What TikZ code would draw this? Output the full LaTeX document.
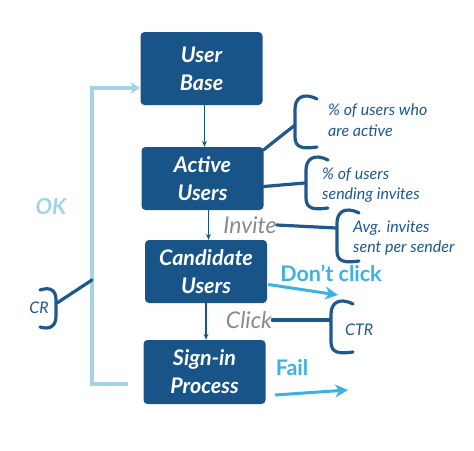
\documentclass[tikz,border=0pt]{standalone}
\usepackage{fontspec}
\setmainfont{Lato}
\usetikzlibrary{arrows.meta,calc}
\definecolor{boxblue}{RGB}{25,84,137}
\definecolor{bracecol}{RGB}{30,88,140}
\definecolor{loopblue}{RGB}{166,211,227}
\definecolor{brightblue}{RGB}{58,178,226}
\definecolor{grayt}{RGB}{138,138,138}
\begin{document}
\begin{tikzpicture}[x=1pt,y=-1pt,
  stagebox/.style={rectangle,rounded corners=4pt,fill=boxblue,text=white,
    minimum width=122pt,minimum height=64pt,align=center,inner sep=0pt,
    font=\fontsize{21.5}{28}\selectfont\bfseries\itshape},
  flow/.style={draw=boxblue,line width=1.2pt,-{Stealth[length=6pt,width=5pt]}},
  bline/.style={draw=bracecol,line width=3.2pt,line cap=round},
  note/.style={text=bracecol,align=left,anchor=west,inner sep=0pt,
    font=\fontsize{16}{20.5}\selectfont\itshape},
  lab/.style={text=grayt,inner sep=0pt,font=\fontsize{23}{24}\selectfont\itshape},
  blab/.style={text=brightblue,inner sep=0pt,font=\fontsize{21.5}{24}\selectfont\bfseries},
  barrow/.style={draw=brightblue,line width=3pt,-{Stealth[length=13pt,width=13pt]}},
  lbr/.pic={\draw[bline] (22,-24) .. controls (8,-31) and (0,-25) .. (0,-14) -- (0,14) .. controls (0,25) and (8,26) .. (22,24);}
]
\useasboundingbox (0,0) rectangle (474,450);

% stages
\node[stagebox,minimum height=73pt] (UB) at (201.5,68.5) {User\\Base};
\node[stagebox,minimum height=63pt] (AU) at (202.5,178.5) {Active\\Users};
\node[stagebox,minimum height=63pt] (CU) at (206,271.5) {Candidate\\Users};
\node[stagebox,minimum height=64pt] (SP) at (204.5,372) {Sign-in\\Process};

\draw[flow] ($(UB.south)+(3,0)$) -- ($(UB.south |- AU.north)+(3,0)$);
\draw[flow] ($(AU.south)+(6,0)$) -- ($(AU.south |- CU.north)+(6,0)$);
\draw[flow] ($(CU.south)+(0,0)$) -- ($(CU.south |- SP.north)+(0,0)$);

% OK loop
\coordinate (loopstart) at (128,384);
\coordinate (loopcorner) at (92,88);
\draw[draw=loopblue,line width=4pt,-{Stealth[length=10pt,width=12pt]}]
  (loopstart) -| (loopcorner) -- (UB.west |- loopcorner);
\node[text=loopblue,inner sep=0pt,font=\fontsize{22}{24}\selectfont\bfseries\itshape] (OK) at (51,207) {OK};

% CR brace
\coordinate (crmid) at (57,303);
\coordinate (crline) at (92,280);
\draw[bline] (40,290) .. controls (52,286) and (56,292) .. (56,300) -- (56,316) .. controls (56,326) and (50,330) .. (40,327);
\draw[bline] (crmid) -- (crline);
\node[text=bracecol,inner sep=0pt,font=\fontsize{16}{18}\selectfont\itshape] (CR) at (39,308) {CR};

% right braces
\pic at (295,123) {lbr};
\coordinate (b1) at (295,125);
\draw[bline] ($(AU.north east)+(0,3)$) -- (b1);
\node[note] (t1) at (328,120) {\% of users who\\are active};

\pic at (306,184) {lbr};
\coordinate (b2) at (305,183);
\draw[bline] ($(AU.east)+(0,8)$) -- (b2);
\node[note] (t2) at (322,185) {\% of users\\sending invites};

\node[lab] (IN) at (250,225) {Invite};
\pic at (337,237) {lbr};
\coordinate (b3) at (336,228);
\draw[bline] (IN.east) -- (b3);
\node[note] (t3) at (353,238) {Avg. invites\\sent per sender};

\node[lab] (CL) at (249,320) {Click};
\pic at (331,328) {lbr};
\coordinate (b4) at (330,320);
\draw[bline] (CL.east) -- (b4);
\node[note] (t4) at (345,330) {CTR};

% outcomes
\node[blab] (DC) at (331,273) {Don’t click};
\coordinate (dcend) at (338,295);
\draw[barrow] ($(CU.east)+(1,13)$) -- (dcend);

\node[blab] (FA) at (292,368) {Fail};
\coordinate (faend) at (348,390);
\draw[barrow] (275,395) -- (faend);
\end{tikzpicture}
\end{document}
